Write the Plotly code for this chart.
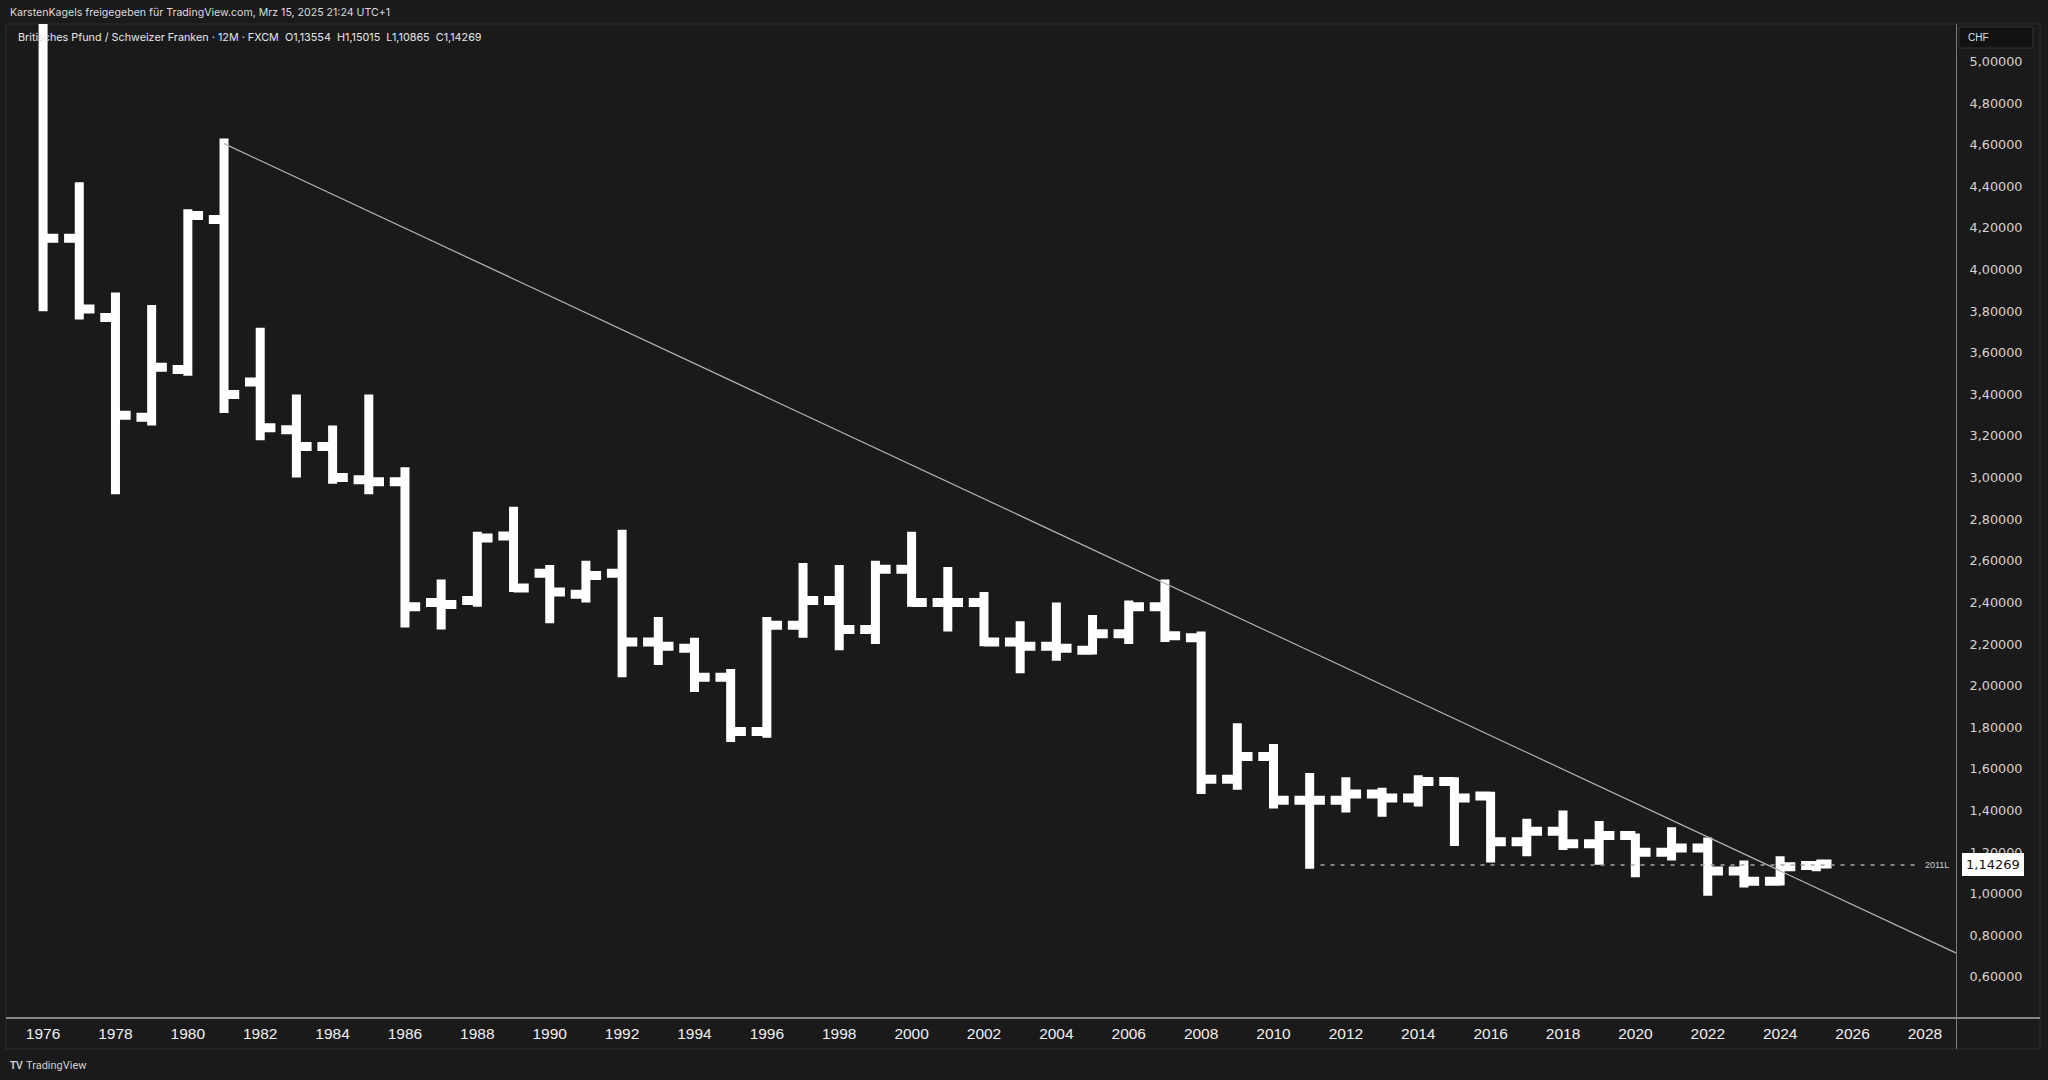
import plotly.graph_objects as go

# ---------------- data ----------------
years = list(range(1976, 2026))
opens = [5.26, 4.15, 3.77, 3.29, 3.52, 4.24, 3.46, 3.23, 3.15, 2.99,
         2.98, 2.40, 2.41, 2.72, 2.54, 2.44, 2.54, 2.21, 2.18, 2.04,
         1.78, 2.29, 2.41, 2.27, 2.56, 2.40, 2.40, 2.21, 2.19, 2.17,
         2.25, 2.38, 2.23, 1.55, 1.66, 1.45, 1.45, 1.48, 1.46, 1.54,
         1.47, 1.25, 1.30, 1.24, 1.28, 1.20, 1.22, 1.11, 1.06, 1.13554]
highs = [5.30, 4.42, 3.89, 3.83, 4.29, 4.63, 3.72, 3.40, 3.25, 3.40,
         3.05, 2.51, 2.74, 2.86, 2.58, 2.60, 2.75, 2.33, 2.23, 2.08,
         2.33, 2.59, 2.58, 2.60, 2.74, 2.57, 2.45, 2.31, 2.40, 2.34,
         2.41, 2.51, 2.26, 1.82, 1.72, 1.58, 1.56, 1.51, 1.57, 1.56,
         1.49, 1.36, 1.40, 1.35, 1.29, 1.32, 1.27, 1.16, 1.18, 1.15015]
lows = [3.80, 3.76, 2.92, 3.25, 3.49, 3.31, 3.18, 3.00, 2.97, 2.92,
        2.28, 2.27, 2.38, 2.45, 2.30, 2.40, 2.04, 2.10, 1.97, 1.73,
        1.75, 2.23, 2.17, 2.20, 2.38, 2.26, 2.19, 2.06, 2.12, 2.15,
        2.20, 2.21, 1.48, 1.50, 1.41, 1.12, 1.39, 1.37, 1.42, 1.23,
        1.15, 1.18, 1.21, 1.14, 1.08, 1.16, 0.99, 1.03, 1.04, 1.10865]
closes = [4.15, 3.81, 3.30, 3.53, 4.26, 3.40, 3.24, 3.15, 3.00, 2.98,
          2.38, 2.39, 2.71, 2.47, 2.45, 2.53, 2.21, 2.19, 2.04, 1.78,
          2.29, 2.41, 2.27, 2.56, 2.40, 2.40, 2.21, 2.19, 2.18, 2.25,
          2.38, 2.24, 1.55, 1.66, 1.45, 1.45, 1.48, 1.46, 1.54, 1.46,
          1.25, 1.30, 1.24, 1.28, 1.20, 1.22, 1.11, 1.06, 1.13, 1.14269]

# trend line drawn on the chart (from the 1981 high, through the 2007 high)
trend_x = [1981.0, 2029.0]
trend_y = [4.605, 0.704]

# horizontal level at the 2011 low
level_x = [2011.3, 2027.86]
level_value = 1.1385
level_label = "2011L"

last_close_label = "1,14269"

x_ticks = list(range(1976, 2029, 2))
y_ticks = [round(0.6 + 0.2 * i, 1) for i in range(23)]
y_ticktext = [f"{v:.5f}".replace(".", ",") for v in y_ticks]

header1 = "KarstenKagels freigegeben für TradingView.com, Mrz 15, 2025 21:24 UTC+1"
header2 = ("Britisches Pfund / Schweizer Franken · 12M · FXCM  "
           "O1,13554  H1,15015  L1,10865  C1,14269")

# ---------------- layout geometry ----------------
W, H = 2048, 1080
ML, MR, MT, MB = 6, 92, 24, 62
PW, PH = W - ML - MR, H - MT - MB
BG = "#1a1a1a"


def px(x):
    return (x - ML) / PW


def py(y):
    return 1 - (y - MT) / PH


fig = go.Figure()

fig.add_trace(go.Ohlc(
    x=years, open=opens, high=highs, low=lows, close=closes,
    increasing=dict(line=dict(color="#ffffff", width=9)),
    decreasing=dict(line=dict(color="#ffffff", width=9)),
    tickwidth=0.42, hoverinfo="skip", showlegend=False,
))

fig.add_trace(go.Scatter(
    x=trend_x, y=trend_y, mode="lines",
    line=dict(color="#b4b4b4", width=1.2),
    hoverinfo="skip", showlegend=False,
))

fig.add_trace(go.Scatter(
    x=level_x, y=[level_value, level_value], mode="lines",
    line=dict(color="#a9a99c", width=1.5, dash="4px,6px"),
    hoverinfo="skip", showlegend=False,
))

shapes = [
    # outer frame
    dict(type="rect", xref="paper", yref="paper",
         x0=px(6), x1=px(2040), y0=py(1049), y1=py(24),
         line=dict(color="#2c2c2c", width=1), fillcolor="rgba(0,0,0,0)", layer="below"),
    # price axis separator
    dict(type="line", xref="paper", yref="paper",
         x0=px(1956.5), x1=px(1956.5), y0=py(1049), y1=py(24),
         line=dict(color="#7c7c7c", width=1)),
    # time axis separator
    dict(type="line", xref="paper", yref="paper",
         x0=px(6), x1=px(2040), y0=py(1018), y1=py(1018),
         line=dict(color="#858585", width=2)),
    # CHF badge
    dict(type="rect", xref="paper", yref="paper",
         x0=px(1959), x1=px(2033), y0=py(48), y1=py(27),
         line=dict(color="#333333", width=1), fillcolor="#121212"),
]

annotations = [
    dict(text=header1, xref="paper", yref="paper", x=px(8), y=py(13),
         xanchor="left", yanchor="middle", showarrow=False,
         font=dict(family="Inter, Liberation Sans", size=10.6, color="#dcdcdc")),
    dict(text=header2, xref="paper", yref="paper", x=px(16), y=py(37),
         xanchor="left", yanchor="middle", showarrow=False,
         font=dict(family="Inter, Liberation Sans", size=10.8, color="#e6e6e6")),
    dict(text="CHF", xref="paper", yref="paper", x=px(1966), y=py(37.5),
         xanchor="left", yanchor="middle", showarrow=False,
         font=dict(family="Liberation Sans", size=10, color="#e0e0e0")),
    dict(text=level_label, xref="paper", yref="y", x=px(1951), y=level_value,
         xanchor="right", yanchor="middle", showarrow=False,
         font=dict(family="Liberation Sans", size=9, color="#cfcfcf")),
    dict(text=last_close_label, xref="paper", yref="y", x=px(1962), y=level_value,
         xanchor="left", yanchor="middle", showarrow=False,
         bgcolor="#ffffff", borderpad=3, bordercolor="#ffffff",
         font=dict(family="DejaVu Sans", size=13, color="#131313")),
    dict(text="<b>TV</b>", xref="paper", yref="paper", x=px(8), y=py(1065),
         xanchor="left", yanchor="middle", showarrow=False,
         font=dict(family="Liberation Sans", size=10, color="#d0d0d0")),
    dict(text="TradingView", xref="paper", yref="paper", x=px(24), y=py(1065),
         xanchor="left", yanchor="middle", showarrow=False,
         font=dict(family="Roboto, Liberation Sans", size=11, color="#cfcfcf")),
]

fig.update_layout(
    width=W, height=H,
    margin=dict(l=ML, r=MR, t=MT, b=MB, pad=0),
    paper_bgcolor=BG, plot_bgcolor=BG,
    shapes=shapes, annotations=annotations,
    showlegend=False,
    xaxis=dict(
        range=[1974.975, 2028.86], tickmode="array", tickvals=x_ticks,
        ticktext=[str(v) for v in x_ticks],
        showgrid=False, zeroline=False, showline=False,
        ticks="outside", ticklen=1, tickcolor=BG,
        rangeslider=dict(visible=False),
        tickfont=dict(family="Liberation Sans", size=15.5, color="#f0f0f0"),
        fixedrange=True,
    ),
    yaxis=dict(
        side="right", range=[0.403, 5.180], tickmode="array",
        tickvals=y_ticks, ticktext=y_ticktext,
        showgrid=False, zeroline=False, showline=False,
        ticks="outside", ticklen=10, tickcolor=BG,
        tickfont=dict(family="DejaVu Sans", size=12.8, color="#d4d4d4"),
        fixedrange=True,
    ),
)

fig.write_html(
    "out.html",
    config={"displayModeBar": False},
    post_script="document.body.style.margin='0';document.body.style.background='#1a1a1a';",
)
